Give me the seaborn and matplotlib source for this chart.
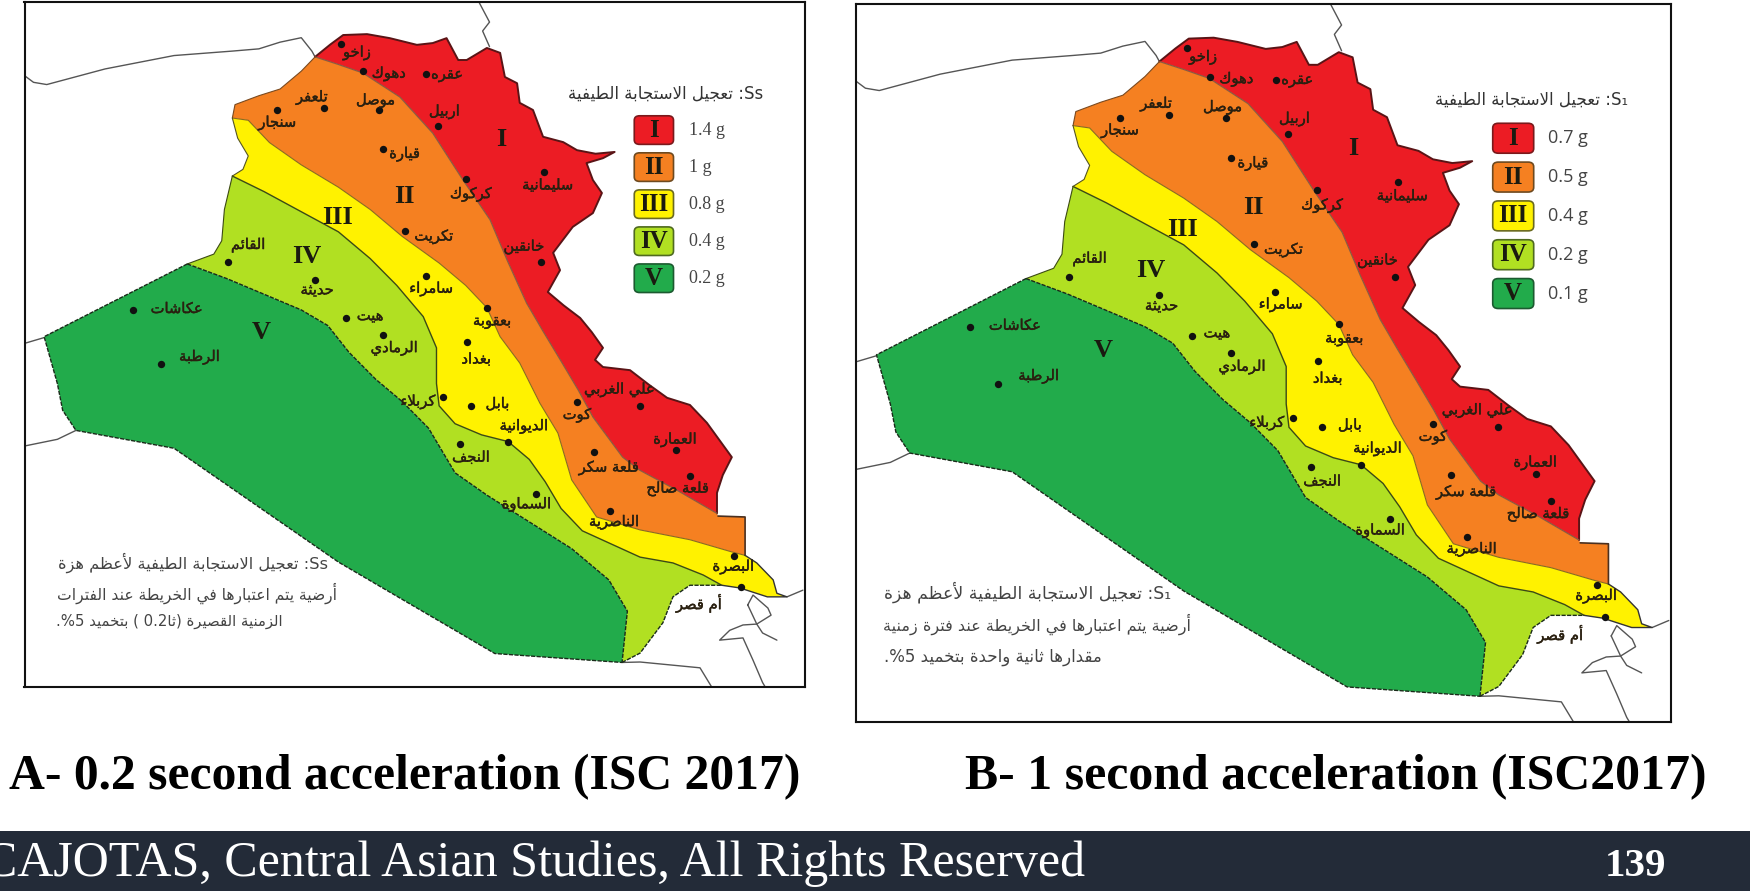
"""Seismic zone maps of Iraq (ISC 2017), 0.2 s and 1 s acceleration."""
import re
import unicodedata

import matplotlib.patheffects as pe
import matplotlib.pyplot as plt
import seaborn as sns
from matplotlib.patches import FancyBboxPatch

# zone boundaries (map units, y down)
NE_BORDER = [(596, 128), (625, 100), (649, 79), (694, 77), (737, 86), (788, 101), (818, 97), (844, 86), (866, 135),
             (882, 135), (920, 108), (945, 119), (954, 173), (977, 187), (982, 231), (1007, 247), (1026, 307),
             (1064, 319), (1090, 337), (1125, 345), (1161, 341), (1139, 355), (1108, 366), (1120, 404), (1137, 433),
             (1120, 478), (1082, 509), (1045, 567), (1058, 606), (1035, 655), (1065, 685), (1096, 713), (1118, 745),
             (1139, 780), (1124, 807), (1139, 823), (1190, 830), (1225, 862), (1260, 892), (1303, 908), (1335, 948),
             (1382, 1025), (1365, 1065), (1354, 1105), (1354, 1151)]
RED_ORANGE = [(596, 128), (640, 145), (686, 164), (756, 218), (818, 299), (875, 404), (926, 493), (958, 583),
              (995, 680), (1026, 743), (1060, 810), (1092, 874), (1120, 935), (1176, 1025), (1208, 1054),
              (1280, 1100), (1354, 1151)]
SE_STEP = [(1356, 1157), (1407, 1159), (1407, 1245)]
ORANGE_NW = [(596, 128), (570, 160), (530, 200), (490, 215), (445, 235), (440, 265)]
ORANGE_YELLOW = [(440, 265), (470, 270), (510, 320), (570, 370), (640, 420), (700, 470), (760, 530), (830, 590),
                 (880, 640), (920, 690), (945, 755), (982, 814), (1020, 904), (1054, 971), (1080, 1076),
                 (1127, 1159), (1209, 1188), (1303, 1210), (1384, 1238), (1407, 1245)]
BASRA_COAST = [(1407, 1245), (1429, 1262), (1460, 1300), (1467, 1330), (1486, 1338), (1449, 1338), (1397, 1318),
               (1363, 1312)]
YELLOW_WEST = [(440, 265), (450, 310), (470, 350), (460, 380), (440, 395)]
YELLOW_IV = [(440, 395), (500, 430), (570, 475), (640, 520), (700, 580), (750, 640), (800, 710), (825, 780),
             (825, 860), (830, 910), (860, 950), (910, 975), (960, 990), (1000, 1030), (1030, 1080), (1060, 1140),
             (1100, 1190), (1209, 1249), (1271, 1262), (1328, 1289), (1363, 1312)]
IV_WEST = [(440, 395), (425, 470), (420, 540), (405, 570), (355, 592)]
IV_V = [(355, 592), (430, 625), (500, 660), (570, 695), (620, 730), (660, 790), (710, 850), (760, 900), (810, 960),
        (860, 1060), (920, 1110), (1000, 1170), (1080, 1230), (1150, 1300), (1185, 1370), (1175, 1485)]
IV_SOUTH = [(1175, 1485), (1209, 1464), (1252, 1396), (1271, 1338), (1303, 1312), (1363, 1312)]
V_SOUTH = [(355, 592), (85, 755), (110, 860), (120, 920), (145, 965), (330, 1005), (640, 1260), (935, 1465),
           (1175, 1485)]

# neighbouring borders
NEIGHBOURS = [
    [(48, 170), (65, 185), (90, 190), (200, 155), (330, 125), (440, 115), (490, 110), (530, 95), (570, 85), (590, 115), (596, 128)],
    [(905, 5), (925, 50), (912, 70), (925, 105)],
    [(48, 770), (85, 757)],
    [(48, 1000), (110, 985), (145, 965)],
    [(1175, 1485), (1209, 1484), (1322, 1497), (1344, 1540)],
    [(1412, 1356), (1422, 1334), (1450, 1363), (1456, 1379), (1429, 1399), (1412, 1356)],
    [(1467, 1435), (1440, 1419), (1429, 1399), (1403, 1401), (1378, 1413), (1359, 1435), (1403, 1430), (1422, 1480), (1440, 1530), (1445, 1540)],
    [(1486, 1338), (1516, 1323)],
]

ZONE_COLORS = ["#ec1c24", "#f58021", "#fff200", "#b1e022", "#22ab4b"]
ZONE_EDGES = ["#7a1a1c", "#6e4a20", "#6a6a20", "#4f6a20", "#1c5a30"]
ZONE_NAMES = ["I", "II", "III", "IV", "V"]
ZONE_NAME_U = [947, 765, 638, 580, 495]
ZONE_NAME_V = [313, 440, 487, 575, 745]
LEGEND_V = [292, 375, 458, 541, 624]

cities = ["زاخو", "دهوك", "عقره", "اربيل", "موصل", "تلعفر", "سنجار", "قيارة", "كركوك", "سليمانية", "تكريت",
          "خانقين", "القائم", "حديثة", "سامراء", "بعقوبة", "هيت", "الرمادي", "بغداد", "عكاشات", "الرطبة",
          "كربلاء", "بابل", "الديوانية", "النجف", "السماوة", "كوت", "علي الغربي", "العمارة", "قلعة سكر",
          "قلعة صالح", "الناصرية", "البصرة", "أم قصر"]
city_u = [645, 687, 806, 828, 717, 613, 525, 725, 880, 1027, 766, 1022, 432, 595, 805, 920, 655, 725, 883, 253,
          305, 838, 890, 960, 870, 1012, 1090, 1208, 1277, 1123, 1303, 1152, 1387, 1400]
city_v = [100, 160, 167, 282, 248, 242, 248, 335, 402, 385, 518, 588, 588, 627, 620, 690, 714, 752, 768, 696,
          817, 890, 910, 990, 995, 1107, 902, 910, 1010, 1013, 1067, 1145, 1247, 1315]
label_u = [675, 735, 845, 840, 710, 590, 525, 765, 890, 1035, 820, 990, 470, 600, 815, 930, 700, 745, 900, 335,
           378, 790, 940, 990, 890, 995, 1090, 1170, 1275, 1150, 1280, 1160, 1385, 1320]
label_v = [118, 165, 167, 250, 225, 218, 275, 345, 435, 415, 530, 553, 550, 650, 647, 720, 708, 782, 805, 692,
           800, 900, 905, 955, 1025, 1130, 930, 875, 985, 1048, 1095, 1170, 1270, 1352]

title_a = "A- 0.2 second acceleration (ISC 2017)"
title_b = "B- 1 second acceleration (ISC2017)"
footer = "CAJOTAS, Central Asian Studies, All Rights Reserved"
page = "139"
legend_title_a = "Ss: تعجيل الاستجابة الطيفية"
legend_title_b = "S₁: تعجيل الاستجابة الطيفية"
values_a = ["1.4 g", "1 g", "0.8 g", "0.4 g", "0.2 g"]
values_b = ["0.7 g", "0.5 g", "0.4 g", "0.2 g", "0.1 g"]
note_a = ["Ss: تعجيل الاستجابة الطيفية لأعظم هزة",
          "أرضية يتم اعتبارها في الخريطة عند الفترات",
          "الزمنية القصيرة (ثا0.2 ) بتخميد .%5"]
note_b = ["S₁: تعجيل الاستجابة الطيفية لأعظم هزة",
          "أرضية يتم اعتبارها في الخريطة عند فترة زمنية",
          "مقدارها ثانية واحدة بتخميد .%5"]

RIGHT_ONLY = set("اأإآدذرزوؤةى")
ALEFS = set("اأإآ")


def _form(ch, form):
    base = unicodedata.name(ch)
    try:
        return unicodedata.lookup(f"{base} {form} FORM")
    except KeyError:
        return ch


def _shape_word(word):
    # matplotlib has no shaping, so pick presentation forms by hand
    out = []
    i = 0
    prev_joins = False
    while i < len(word):
        ch = word[i]
        nxt = word[i + 1] if i + 1 < len(word) else None
        if ch == "ل" and nxt in ALEFS:
            name = unicodedata.name(nxt).replace("ARABIC LETTER ", "")
            form = "FINAL" if prev_joins else "ISOLATED"
            out.append(unicodedata.lookup(f"ARABIC LIGATURE LAM WITH {name} {form} FORM"))
            prev_joins = False
            i += 2
            continue
        next_joins = nxt is not None and ch not in RIGHT_ONLY
        if prev_joins and next_joins:
            form = "MEDIAL"
        elif prev_joins:
            form = "FINAL"
        elif next_joins:
            form = "INITIAL"
        else:
            form = "ISOLATED"
        out.append(_form(ch, form))
        prev_joins = next_joins
        i += 1
    return "".join(reversed(out))


def rtl(text):
    tokens = re.findall(r"[\u0600-\u06FF]+|[()]|[^\u0600-\u06FF\s()]+|\s+", text)
    mirror = {"(": ")", ")": "("}
    res = []
    for tok in reversed(tokens):
        if re.match(r"[\u0600-\u06FF]", tok):
            res.append(_shape_word(tok))
        elif tok.endswith(":"):
            res.append(":" + tok[:-1])
        else:
            res.append(mirror.get(tok, tok))
    return "".join(res)


def xy(points):
    return [p[0] for p in points], [p[1] for p in points]


def draw_map(ax, legend_title, values, value_font, value_u, note, note_right, note_v, note_sizes):
    thick = [pe.withStroke(linewidth=0.3, foreground="#2a2010")]
    zones = [
        NE_BORDER + RED_ORANGE[::-1],
        RED_ORANGE + SE_STEP + ORANGE_YELLOW[::-1] + ORANGE_NW[::-1],
        ORANGE_YELLOW + BASRA_COAST + YELLOW_IV[::-1] + YELLOW_WEST[::-1],
        YELLOW_IV + IV_SOUTH[::-1] + IV_V[::-1] + IV_WEST[::-1],
        IV_V + V_SOUTH[::-1],
    ]
    for pts, color in zip(zones, ZONE_COLORS):
        u, v = xy(pts)
        ax.fill(u, v, color=color, linewidth=0, zorder=2)

    for line in NEIGHBOURS:
        u, v = xy(line)
        sns.lineplot(x=u, y=v, sort=False, estimator=None, color="#555555", linewidth=1.0, ax=ax, zorder=1)

    solid = [(NE_BORDER, "#5a1416", 1.4), (RED_ORANGE, "#8a5a40", 0.9), (ORANGE_YELLOW, "#8a6a20", 0.8),
             (YELLOW_IV, "#3c4a14", 1.0), (ORANGE_NW, "#7a4a20", 0.8), (SE_STEP, "#4a3020", 1.2),
             (YELLOW_WEST, "#555520", 0.8), (IV_WEST, "#3c4a14", 0.8), (BASRA_COAST, "#333333", 1.0)]
    for pts, color, lw in solid:
        u, v = xy(pts)
        sns.lineplot(x=u, y=v, sort=False, estimator=None, color=color, linewidth=lw, ax=ax, zorder=3)
    for pts in (IV_V, V_SOUTH, IV_SOUTH):
        u, v = xy(pts)
        sns.lineplot(x=u, y=v, sort=False, estimator=None, color="#1a2a1a", linewidth=1.0,
                     linestyle=(0, (3, 1)), ax=ax, zorder=3)

    sns.scatterplot(x=city_u, y=city_v, color="#111111", s=28, linewidth=0, ax=ax, zorder=4, legend=False)
    for name, u, v in zip(cities, label_u, label_v):
        ax.text(u, v, rtl(name), ha="center", va="center", fontsize=10.6, color="#2a2010", zorder=5,
                path_effects=thick)

    for name, u, v in zip(ZONE_NAMES, ZONE_NAME_U, ZONE_NAME_V):
        ax.text(u, v, name, ha="center", va="center", fontsize=19, fontweight="bold",
                family="Liberation Serif", color="#1a1a10", zorder=5)

    # legend boxes
    ax.text(1442, 210, rtl(legend_title), ha="right", va="center", fontsize=12, color="#333333")
    for name, color, edge, v, val in zip(ZONE_NAMES, ZONE_COLORS, ZONE_EDGES, LEGEND_V, values):
        ax.add_patch(FancyBboxPatch((1198, v - 32), 74, 64, boxstyle="round,pad=0,rounding_size=10",
                                    facecolor=color, edgecolor=edge, linewidth=1.2, zorder=3))
        ax.text(1235, v, name, ha="center", va="center", fontsize=18, fontweight="bold",
                family="Liberation Serif", color="#1a1a10", zorder=5)
        ax.text(value_u, v, val, ha="left", va="center", fontsize=13, family=value_font, color="#444444")

    for line, r, v, size in zip(note, note_right, note_v, note_sizes):
        ax.text(r, v, rtl(line), ha="right", va="center", fontsize=size, color="#444444", zorder=5)

    ax.set_xlim(48, 1520)
    ax.set_ylim(1540, 5)
    ax.set_xticks([])
    ax.set_yticks([])
    ax.set_xlabel("")
    ax.set_ylabel("")
    for s in ax.spines.values():
        s.set_visible(True)
        s.set_color("#111111")
        s.set_linewidth(1.5)


sns.set_theme(style="white")
plt.rcParams["font.family"] = ["DejaVu Sans"]

W, H = 1750, 891
fig = plt.figure(figsize=(W / 100, H / 100), dpi=100, facecolor="white")

bg = fig.add_axes([0, 0, 1, 1])
bg.set_xlim(0, W)
bg.set_ylim(H, 0)
bg.axis("off")
bg.axhspan(831, 891, color="#232b38", linewidth=0)
bg.text(9, 777, title_a, ha="left", va="center", fontsize=35.7, fontweight="bold", family="Liberation Serif", color="black")
bg.text(965, 777, title_b, ha="left", va="center", fontsize=35.8, fontweight="bold", family="Liberation Serif", color="black")
bg.text(1085, 864, footer, ha="right", va="center", fontsize=36, family="Liberation Serif", color="white")
bg.text(1636, 866, page, ha="center", va="center", fontsize=29.5, fontweight="bold", family="Liberation Serif", color="white")


def panel(left, right, top, bottom):
    return fig.add_axes([left / W, 1 - bottom / H, (right - left) / W, (bottom - top) / H])


ax_a = panel(24.5, 805, 2, 687)
draw_map(ax_a, legend_title_a, values_a, "Liberation Serif", 1302, note_a, [620, 637, 535], [1262, 1330, 1393],
         [11.7, 11.2, 10.7])
ax_b = panel(856, 1671, 4, 722)
draw_map(ax_b, legend_title_b, values_b, "Open Sans", 1297, note_b, [617, 653, 491], [1263, 1332, 1400],
         [12.5, 11.5, 12.0])

fig.savefig("out.png", dpi=100)
plt.close(fig)
